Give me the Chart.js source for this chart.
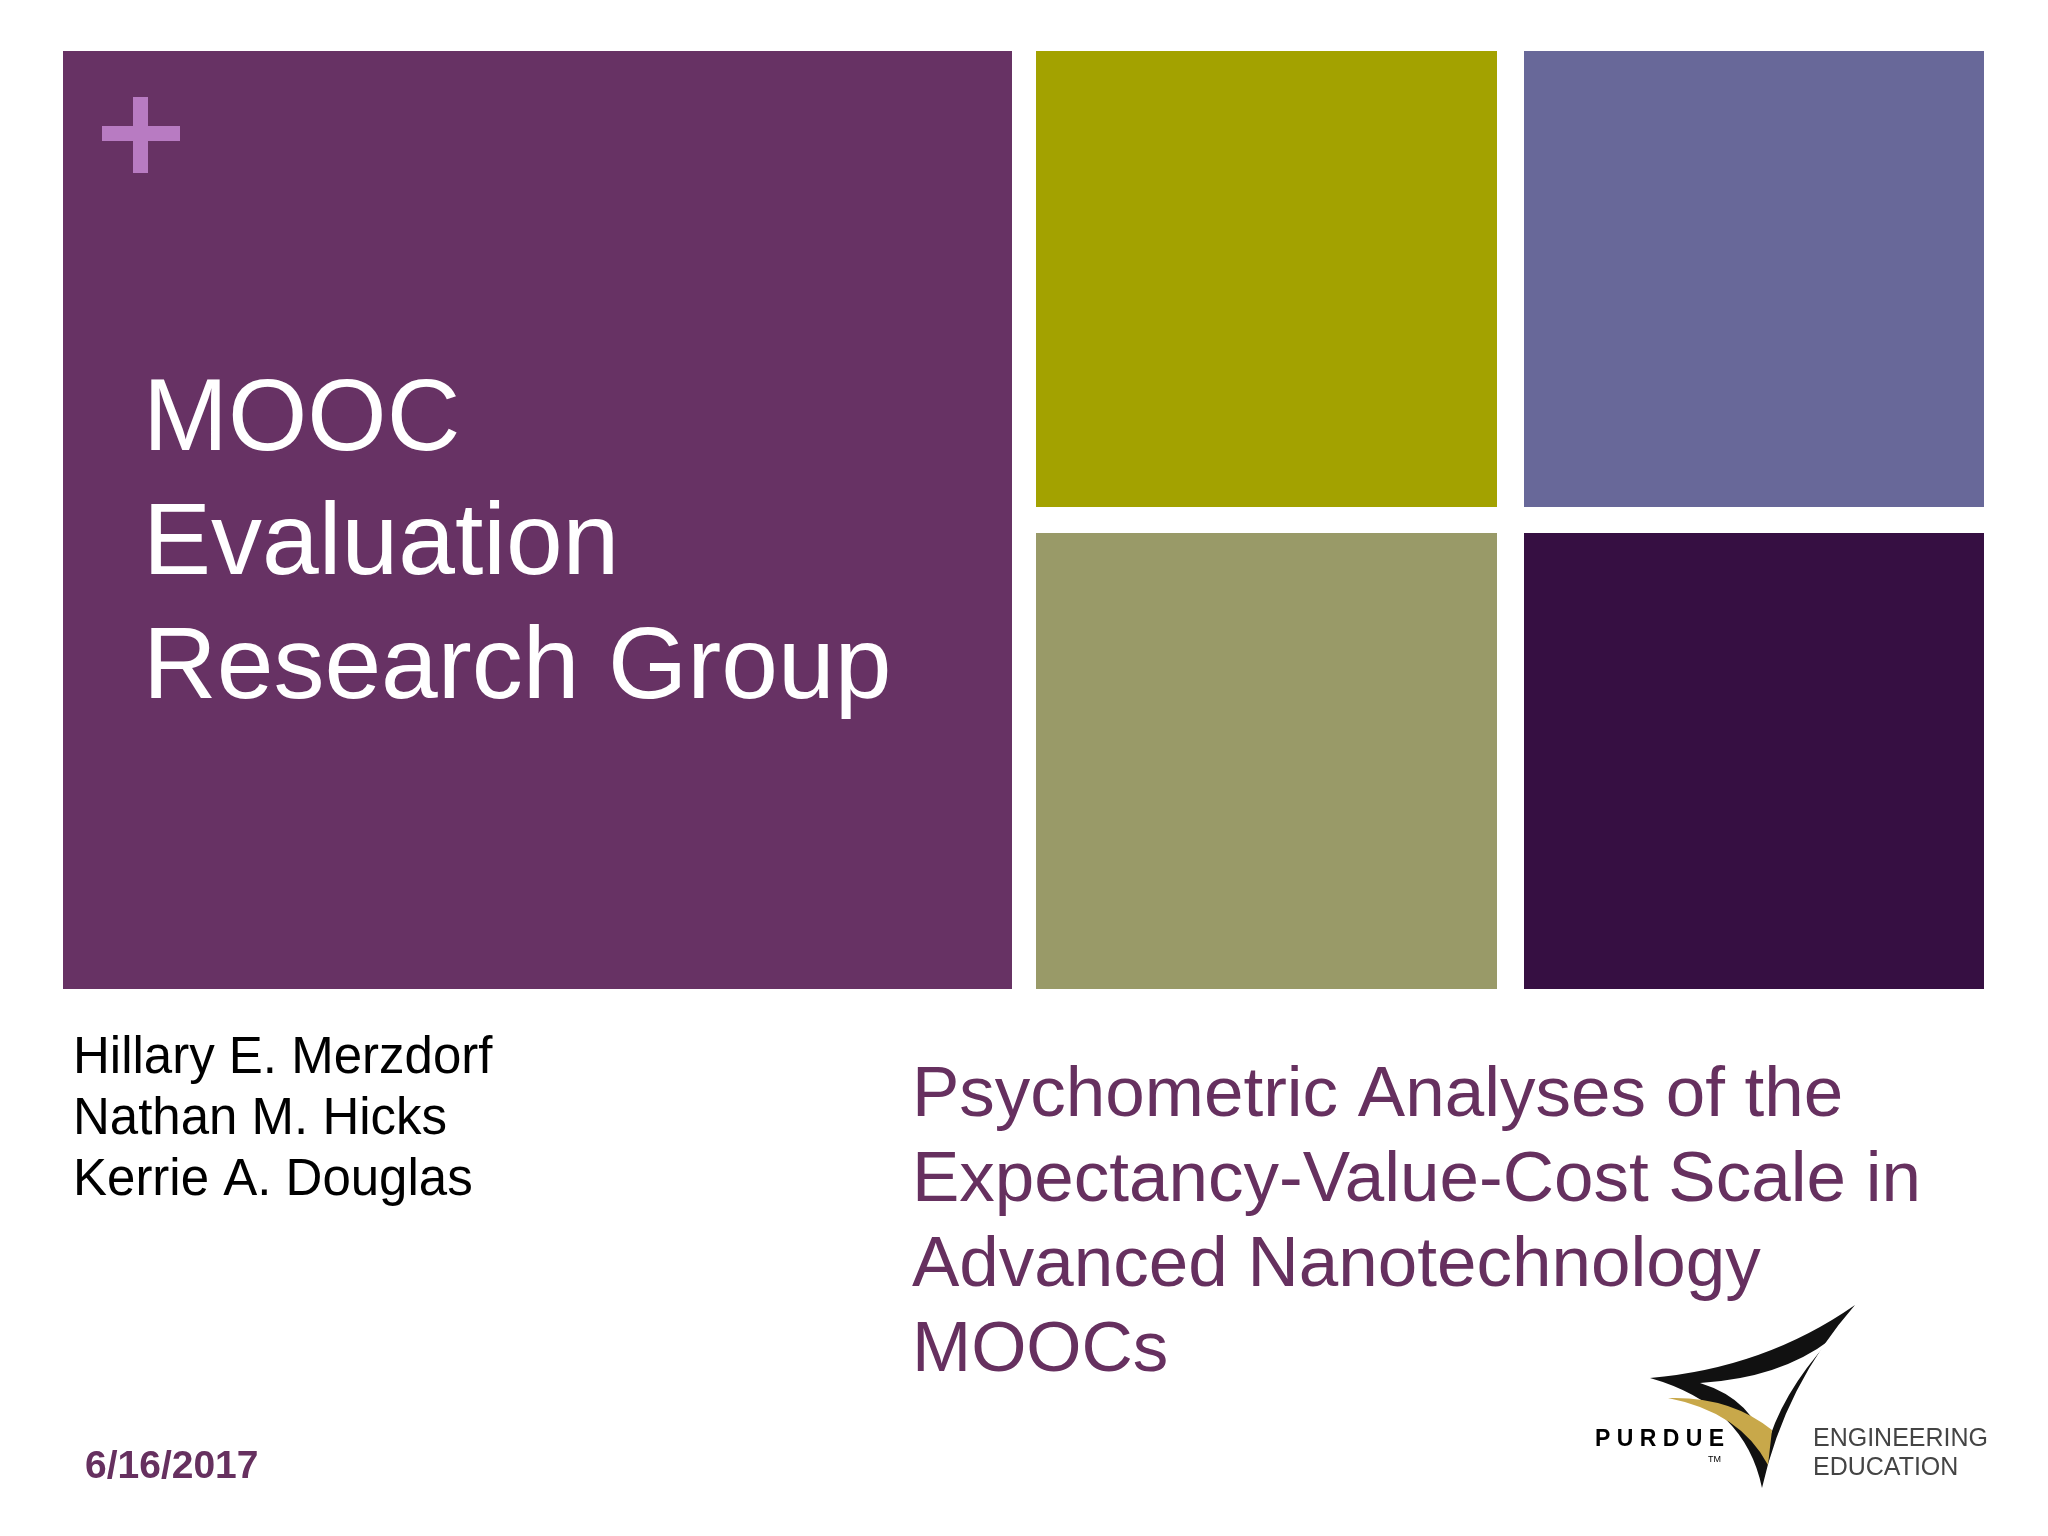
<!DOCTYPE html>
<html><head><meta charset="utf-8">
<script src="https://cdn.jsdelivr.net/npm/chart.js@4"></script>
<style>html,body{margin:0;padding:0;background:#fff}#wrap{width:2048px;height:1536px;position:relative}</style>
</head><body><div id="wrap"><canvas id="c" width="2048" height="1536"></canvas></div>
<script>
// Tile extents in slide units (0..2048 x, 0..1536 y)
const tileX0 = [63, 1036, 1524, 1036, 1524];
const tileX1 = [1012, 1497, 1984, 1497, 1984];
const tileY0 = [51, 51, 51, 533, 533];
const tileY1 = [989, 507, 507, 989, 989];
const tileColors = ['#673264', '#a3a200', '#686899', '#999a68', '#360f42'];
const titleLines = ['MOOC', 'Evaluation', 'Research Group'];
const authors = ['Hillary E. Merzdorf', 'Nathan M. Hicks', 'Kerrie A. Douglas'];
const subtitle = ['Psychometric Analyses of the', 'Expectancy-Value-Cost Scale in', 'Advanced Nanotechnology', 'MOOCs'];
const dateLabel = '6/16/2017';

const F = 'Liberation Sans, Arial, sans-serif';
const slide = {
  id: 'slide',
  afterDatasetsDraw(chart) {
    const {ctx, scales: {x, y}} = chart;
    ctx.save();
    for (let i = 0; i < tileX0.length; i++) {
      const a = x.getPixelForValue(tileX0[i]), b = x.getPixelForValue(tileX1[i]);
      const t = y.getPixelForValue(tileY0[i]), u = y.getPixelForValue(tileY1[i]);
      ctx.fillStyle = tileColors[i];
      ctx.fillRect(a, t, b - a, u - t);
    }
    ctx.fillStyle = '#b87bc2';
    ctx.fillRect(102, 126, 78, 15);
    ctx.fillRect(133, 97, 15, 76);
    ctx.fillStyle = '#ffffff';
    ctx.font = '102px ' + F;
    titleLines.forEach((s, i) => ctx.fillText(s, 143, 450 + i * 124));
    ctx.fillStyle = '#000000';
    ctx.font = '51px ' + F;
    authors.forEach((s, i) => ctx.fillText(s, 73, 1073 + i * 61));
    ctx.fillStyle = '#66305f';
    ctx.font = '71px ' + F;
    subtitle.forEach((s, i) => ctx.fillText(s, 912, 1116 + i * 85));
    ctx.font = 'bold 39px ' + F;
    ctx.fillText(dateLabel, 85, 1478);
    // logo
    ctx.fillStyle = '#000';
    ctx.font = 'bold 23px ' + F;
    ctx.fillText('P U R D U E', 1595, 1446);
    ctx.font = '9px ' + F;
    ctx.fillText('TM', 1708, 1462);
    ctx.fillStyle = '#444';
    ctx.font = '25px ' + F;
    ctx.fillText('ENGINEERING', 1813, 1446);
    ctx.fillText('EDUCATION', 1813, 1475);
    ctx.fillStyle = '#111';
    ctx.beginPath();
    ctx.moveTo(1650, 1378); ctx.quadraticCurveTo(1765, 1368, 1855, 1305);
    ctx.quadraticCurveTo(1785, 1385, 1762, 1488);
    ctx.quadraticCurveTo(1745, 1405, 1650, 1378); ctx.fill();
    ctx.fillStyle = '#ffffff';
    ctx.beginPath();
    ctx.moveTo(1700, 1383); ctx.quadraticCurveTo(1780, 1378, 1830, 1340);
    ctx.quadraticCurveTo(1780, 1395, 1766, 1450);
    ctx.quadraticCurveTo(1755, 1400, 1700, 1383); ctx.fill();
    ctx.fillStyle = '#c8a84a';
    ctx.beginPath();
    ctx.moveTo(1668, 1398); ctx.quadraticCurveTo(1730, 1396, 1772, 1430);
    ctx.lineTo(1768, 1465); ctx.quadraticCurveTo(1740, 1412, 1668, 1398); ctx.fill();
    ctx.restore();
  }
};
new Chart(document.getElementById('c'), {
  type: 'scatter',
  data: {datasets: [{data: []}]},
  options: {
    responsive: false, animation: false,
    layout: {padding: 0},
    plugins: {legend: {display: false}, tooltip: {enabled: false}},
    scales: {
      x: {type: 'linear', min: 0, max: 2048, display: false},
      y: {type: 'linear', min: 0, max: 1536, reverse: true, display: false}
    }
  },
  plugins: [slide]
});
</script></body></html>
